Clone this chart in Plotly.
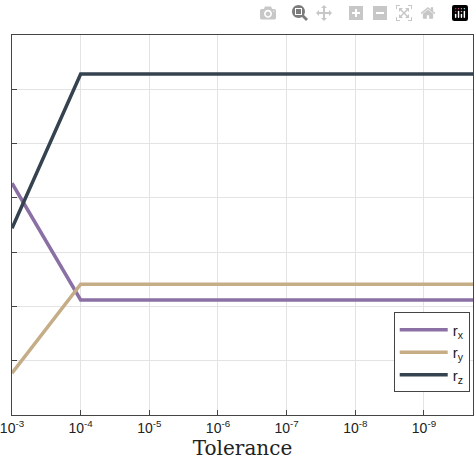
import plotly.graph_objects as go

tol = [1e-3, 1e-4, 1e-5, 1e-6, 1e-7, 1e-8, 1e-9, 1e-10]
rx = [4.27, 2.12, 2.12, 2.12, 2.12, 2.12, 2.12, 2.12]
ry = [0.77, 2.41, 2.41, 2.41, 2.41, 2.41, 2.41, 2.41]
rz = [3.44, 6.28, 6.28, 6.28, 6.28, 6.28, 6.28, 6.28]
names = ["r<sub>x</sub>", "r<sub>y</sub>", "r<sub>z</sub>"]
colors = ["#8a70a4", "#c5ad88", "#35424f"]
tickvals = [1e-3, 1e-4, 1e-5, 1e-6, 1e-7, 1e-8, 1e-9]
ticktext = ["10<sup>-3</sup>", "10<sup>-4</sup>", "10<sup>-5</sup>", "10<sup>-6</sup>",
            "10<sup>-7</sup>", "10<sup>-8</sup>", "10<sup>-9</sup>"]

fig = go.Figure()
for n, ys, c in zip(names, [rx, ry, rz], colors):
    fig.add_trace(go.Scatter(x=tol, y=ys, name=n, mode="lines",
                             line=dict(color=c, width=3.5)))

fig.update_layout(
    width=474, height=474, plot_bgcolor="white", paper_bgcolor="white",
    margin=dict(l=4, r=0, t=35, b=59),
    font=dict(family="Liberation Sans", size=14, color="#222"),
    xaxis=dict(type="log", range=[-3, -9.714], tickvals=tickvals, ticktext=ticktext,
               ticklabeloverflow="allow",
               showgrid=True, gridcolor="#e3e3e3", showline=True, linecolor="#444",
               mirror=True, ticks="inside", ticklen=5, tickcolor="#444",
               title=dict(text="Tolerance", font=dict(family="DejaVu Serif", size=20, color="#222"),
                          standoff=4)),
    yaxis=dict(range=[0, 7], dtick=1, showticklabels=False, showgrid=True,
               gridcolor="#e3e3e3", showline=True, linecolor="#444", mirror=True,
               ticks="inside", ticklen=5, tickcolor="#444", zeroline=False),
    legend=dict(x=0.828, y=0.27, xanchor="left", yanchor="top", bgcolor="white",
                bordercolor="#444", borderwidth=1, font=dict(size=15),
                itemwidth=48, tracegroupgap=6),
)
fig.write_html("out.html", post_script="document.body.style.margin='0';document.body.style.overflow='hidden';")
